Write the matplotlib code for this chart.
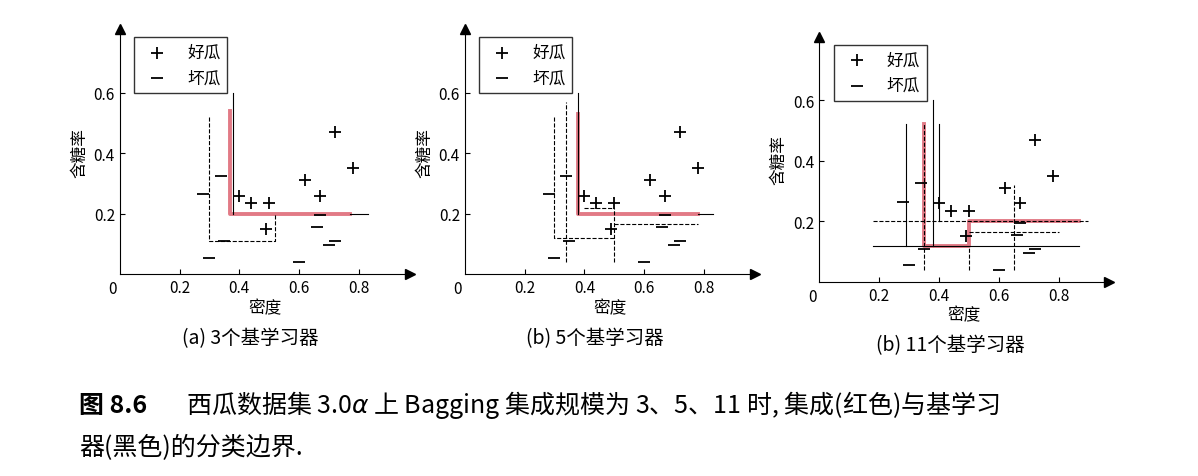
import matplotlib.pyplot as plt

plt.rcParams['font.family'] = ['Noto Sans CJK SC', 'DejaVu Sans']

good_x = [0.40, 0.44, 0.50, 0.49, 0.62, 0.67, 0.72, 0.78]
good_y = [0.26, 0.235, 0.235, 0.15, 0.31, 0.26, 0.47, 0.35]
bad_x = [0.28, 0.30, 0.34, 0.35, 0.60, 0.66, 0.67, 0.70, 0.72]
bad_y = [0.265, 0.055, 0.325, 0.11, 0.04, 0.155, 0.195, 0.095, 0.11]

titles = ['(a) 3个基学习器', '(b) 5个基学习器', '(b) 11个基学习器']

# (x list, y list, style) per panel
red = [
    [([0.37, 0.37, 0.77], [0.54, 0.2, 0.2])],
    [([0.38, 0.38, 0.78], [0.53, 0.2, 0.2])],
    [([0.35, 0.35, 0.50, 0.50, 0.87], [0.52, 0.12, 0.12, 0.2, 0.2])],
]
black = [
    [([0.38, 0.38], [0.2, 0.6], '-'), ([0.77, 0.83], [0.2, 0.2], '-'),
     ([0.30, 0.30, 0.52, 0.52], [0.52, 0.11, 0.11, 0.2], '--')],
    [([0.38, 0.38], [0.2, 0.6], '-'), ([0.78, 0.83], [0.2, 0.2], '-'),
     ([0.30, 0.30, 0.50], [0.52, 0.12, 0.12], '--'),
     ([0.34, 0.34], [0.04, 0.57], '--'), ([0.50, 0.50], [0.04, 0.22], '--'),
     ([0.40, 0.50], [0.22, 0.22], '--'), ([0.50, 0.78], [0.165, 0.165], '--')],
    [([0.38, 0.38], [0.12, 0.6], '-'), ([0.18, 0.87], [0.12, 0.12], '-'),
     ([0.29, 0.29], [0.12, 0.52], '-'), ([0.40, 0.40], [0.2, 0.52], '-'),
     ([0.18, 0.90], [0.2, 0.2], '--'), ([0.35, 0.35], [0.04, 0.52], '--'),
     ([0.65, 0.65], [0.04, 0.32], '--'), ([0.50, 0.80], [0.165, 0.165], '--'),
     ([0.50, 0.50], [0.04, 0.12], '--')],
]

fig = plt.figure(figsize=(11.98, 4.77), dpi=100)
lefts = [0.100, 0.388, 0.684]
bottoms = [0.423, 0.423, 0.407]
for i in range(3):
    ax = fig.add_axes([lefts[i], bottoms[i], 0.242, 0.514])
    ax.set_xlim(0, 0.97)
    ax.set_ylim(0, 0.81)
    for s in ['top', 'right']:
        ax.spines[s].set_visible(False)
    ax.plot(1, 0, '>k', transform=ax.transAxes, clip_on=False, ms=7)
    ax.plot(0, 1, '^k', transform=ax.transAxes, clip_on=False, ms=7)
    for xs, ys in red[i]:
        ax.plot(xs, ys, color='#e27a86', lw=2.8, zorder=2)
    for xs, ys, ls in black[i]:
        ax.plot(xs, ys, color='k', lw=0.8, ls=ls, zorder=3)
    ax.scatter(good_x, good_y, marker='+', s=70, color='k', lw=1.3, label='好瓜', zorder=4)
    ax.scatter(bad_x, bad_y, marker='_', s=70, color='k', lw=1.3, label='坏瓜', zorder=4)
    ax.set_xticks([0.2, 0.4, 0.6, 0.8])
    ax.set_yticks([0.2, 0.4, 0.6])
    ax.tick_params(direction='in', labelsize=11)
    ax.text(-0.01, -0.02, '0', ha='right', va='top', fontsize=11)
    ax.set_xlabel('密度', fontsize=12, labelpad=2)
    ax.set_ylabel('含糖率', fontsize=12)
    ax.legend(loc='upper left', bbox_to_anchor=(0.02, 1.0), fontsize=12,
              fancybox=False, edgecolor='k', handletextpad=0.8)
    ax.text(0.45, -0.28, titles[i], transform=ax.transAxes, ha='center', fontsize=14)

fig.text(0.066, 0.135, '图 8.6', fontsize=18, fontweight='bold')
fig.text(0.155, 0.135, '西瓜数据集 3.0$\\alpha$ 上 Bagging 集成规模为 3、5、11 时, 集成(红色)与基学习',
         fontsize=18)
fig.text(0.066, 0.045, '器(黑色)的分类边界.', fontsize=18)
fig.savefig('out.png', dpi=100)
